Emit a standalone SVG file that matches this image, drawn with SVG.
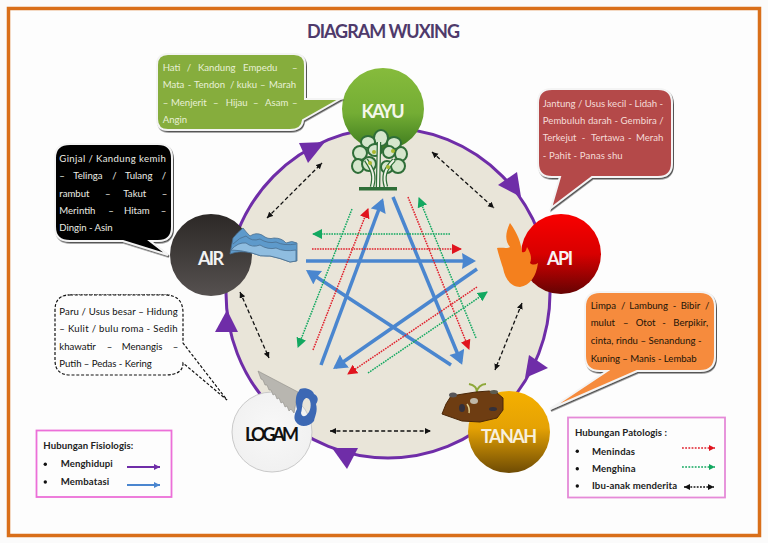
<svg xmlns="http://www.w3.org/2000/svg" width="768" height="543" viewBox="0 0 768 543">
<style>
text{font-family:"Lato","Carlito","Liberation Sans",sans-serif}
.b{font-size:9.6px}
.lbl{font-size:18px;font-weight:700;text-anchor:middle}
.lg{font-size:9.6px;font-weight:700;fill:#222}
.blue{stroke:#4a86cf;stroke-width:3.5;fill:none;marker-end:url(#hb)}
.red{stroke:#e0202c;stroke-width:1.5;stroke-dasharray:1.6 1;fill:none;marker-end:url(#hr)}
.green{stroke:#12a860;stroke-width:1.5;stroke-dasharray:1.6 1;fill:none;marker-end:url(#hg)}
.dbl{stroke:#111;stroke-width:1.3;stroke-dasharray:4 2.4;fill:none;marker-end:url(#hk);marker-start:url(#hk)}
.tri{fill:#6f2da8}
.leaf{fill:#d5e6cc;stroke:#2f6e38;stroke-width:2}
.bub{stroke:#f4f4f4;stroke-width:2;filter:url(#sh)}
.wave{stroke:#4a6f8f;stroke-width:.8}
</style>
<defs>
<filter id="sh" x="-10%" y="-10%" width="120%" height="125%"><feDropShadow dx="1" dy="1.5" stdDeviation=".6" flood-color="#555"/></filter>
<linearGradient id="gk" x1="0" y1="0" x2="0" y2="1"><stop offset="0" stop-color="#86bb3c"/><stop offset=".55" stop-color="#74ad34"/><stop offset="1" stop-color="#3c7a1e"/></linearGradient>
<linearGradient id="ga" x1="0" y1="0" x2="0" y2="1"><stop offset="0" stop-color="#f90000"/><stop offset=".5" stop-color="#d80000"/><stop offset="1" stop-color="#650303"/></linearGradient>
<linearGradient id="gt" x1="0" y1="0" x2="0" y2="1"><stop offset="0" stop-color="#f5b000"/><stop offset=".45" stop-color="#e5a204"/><stop offset="1" stop-color="#6e4b04"/></linearGradient>
<linearGradient id="gw" x1="0" y1="0" x2="0" y2="1"><stop offset="0" stop-color="#2c2826"/><stop offset="1" stop-color="#565150"/></linearGradient>
<radialGradient id="gl" cx=".5" cy=".45" r=".6"><stop offset="0" stop-color="#f8f8f8"/><stop offset="1" stop-color="#f0f0f0"/></radialGradient>
<marker id="hb" markerUnits="userSpaceOnUse" markerWidth="18" markerHeight="18" refX="11" refY="8" orient="auto"><path d="M0,0L14,8L0,16L1,8Z" fill="#4a86cf"/></marker>
<marker id="hr" markerUnits="userSpaceOnUse" markerWidth="12" markerHeight="12" refX="9" refY="5" orient="auto"><path d="M0,0L10,5L0,10Z" fill="#e0141e"/></marker>
<marker id="hg" markerUnits="userSpaceOnUse" markerWidth="12" markerHeight="12" refX="9" refY="5" orient="auto"><path d="M0,0L10,5L0,10Z" fill="#12a860"/></marker>
<marker id="hk" markerUnits="userSpaceOnUse" markerWidth="8" markerHeight="8" refX="6" refY="3" orient="auto-start-reverse"><path d="M0,0L6,3L0,6Z" fill="#111"/></marker>
<marker id="hp" markerUnits="userSpaceOnUse" markerWidth="7" markerHeight="7" refX="6" refY="3" orient="auto"><path d="M0,0L6,3L0,6Z" fill="#6f2da8"/></marker>
<marker id="hl" markerUnits="userSpaceOnUse" markerWidth="7" markerHeight="7" refX="6" refY="3" orient="auto"><path d="M0,0L6,3L0,6Z" fill="#4a86cf"/></marker>
</defs>
<rect width="768" height="543" fill="#fbfbfb"/>
<rect x="8.5" y="8.5" width="751" height="527" fill="#fdfdfd" stroke="#d96f1a" stroke-width="3.5"/>
<text id="title" x="307" y="37.5" font-size="18" font-weight="700" fill="#4f3a6b" textLength="153">DIAGRAM WUXING</text>

<g id="siklus">
<ellipse cx="388" cy="293" rx="162" ry="165" fill="#e9e5d9" stroke="#6f2da8" stroke-width="3"/>
<polygon class="tri" points="299,143 325,142 308,163"/>
<polygon class="tri" points="498,185 517,172 521,197"/>
<polygon class="tri" points="529,355 548,368 525,378"/>
<polygon class="tri" points="332,448 358,448 347,469"/>
<polygon class="tri" points="215,332 238,332 227,310"/>
</g>

<g id="connectors">
<line class="blue" x1="321" y1="365" x2="382" y2="201"/>
<line class="blue" x1="393" y1="197" x2="461" y2="362"/>
<line class="blue" x1="306" y1="261" x2="473" y2="261"/>
<line class="blue" x1="477" y1="269" x2="335.5" y2="367.3"/>
<line class="blue" x1="451" y1="365" x2="308.5" y2="271.7"/>
<line class="red" x1="313" y1="350" x2="368" y2="209"/>
<line class="red" x1="408" y1="197" x2="469" y2="349"/>
<line class="red" x1="312" y1="249" x2="461" y2="249"/>
<line class="red" x1="477" y1="287" x2="348" y2="374"/>
<line class="green" x1="352" y1="209" x2="298" y2="347"/>
<line class="green" x1="476" y1="338" x2="419" y2="198"/>
<line class="green" x1="450" y1="234" x2="313" y2="234"/>
<line class="green" x1="368" y1="373" x2="487" y2="292"/>
<line class="dbl" x1="267" y1="218" x2="322" y2="163"/>
<line class="dbl" x1="432" y1="152" x2="494" y2="208"/>
<line class="dbl" x1="522" y1="303" x2="495" y2="370"/>
<line class="dbl" x1="330" y1="431" x2="431" y2="431"/>
<line class="dbl" x1="240" y1="292" x2="269" y2="358"/>
</g>

<g id="node-kayu">
<circle cx="383" cy="109" r="41" fill="url(#gk)"/>
<text class="lbl" x="383" y="118" fill="#f4f7ea" textLength="43">KAYU</text>
<g id="ikon-pohon">
<ellipse class="leaf" cx="381" cy="138" rx="7" ry="8"/>
<ellipse class="leaf" cx="368" cy="142" rx="7" ry="6"/>
<ellipse class="leaf" cx="394" cy="143" rx="7" ry="6"/>
<ellipse class="leaf" cx="360" cy="153" rx="7" ry="7"/>
<ellipse class="leaf" cx="375" cy="150" rx="7" ry="6"/>
<ellipse class="leaf" cx="389" cy="152" rx="6" ry="6"/>
<ellipse class="leaf" cx="401" cy="154" rx="6" ry="7"/>
<ellipse class="leaf" cx="358" cy="166" rx="6" ry="7"/>
<ellipse class="leaf" cx="369" cy="164" rx="7" ry="7"/>
<ellipse class="leaf" cx="387" cy="167" rx="6" ry="6"/>
<ellipse class="leaf" cx="398" cy="166" rx="7" ry="7"/>
<path d="M372,187C375,176 373,170 366,160M386,187C383,177 384,170 394,160M378,187L379,142" fill="none" stroke="#2f6e38" stroke-width="4.5"/>
<path d="M372,187C375,176 373,170 366,160M386,187C383,177 384,170 394,160M378,187L379,142" fill="none" stroke="#eef3e6" stroke-width="2"/>
<circle cx="374" cy="152" r="2" fill="#a8b92e"/><circle cx="370" cy="163" r="2" fill="#a8b92e"/><circle cx="393" cy="151" r="2" fill="#a8b92e"/><circle cx="388" cy="167" r="2" fill="#a8b92e"/>
<rect x="359" y="187" width="38" height="3.5" fill="#2f6e38"/>
</g>
</g>

<g id="node-api">
<circle cx="561" cy="254" r="40" fill="url(#ga)"/>
<text class="lbl" x="560" y="265" fill="#f8f2f2" textLength="26">API</text>
<path id="ikon-api" d="M510,223C505,233 505,241 510,247C507,249 502,247 497,248C499,256 501,262 503,268C505,279 511,287 520,287C530,285 536,277 538,263C535,265 532,265 530,263C532,258 531,254 527,247C526,252 524,253 522,252C521,243 518,234 510,223Z" fill="#f4801e"/>
</g>

<g id="node-tanah">
<circle cx="509" cy="432" r="41" fill="url(#gt)"/>
<text class="lbl" x="509" y="443" fill="#f8f0dc" textLength="56">TANAH</text>
<g id="ikon-tanah">
<path d="M477,392C477,388 474,385 469,384M477,392C477,388 481,384 486,384" fill="none" stroke="#8ea83a" stroke-width="2"/>
<path d="M442,414L446,404L451,396L463,394L476,392L489,391L497,393L503,398L503,410L497,418L480,422L462,421Z" fill="#6e3d12" stroke="#4a2708" stroke-width="1"/>
<ellipse cx="453" cy="395" rx="4" ry="2.5" fill="#57565a"/><ellipse cx="494" cy="392" rx="4" ry="2" fill="#5c5c50"/><ellipse cx="474" cy="401" rx="4" ry="3" fill="#bfb8a8"/><ellipse cx="462" cy="408" rx="3" ry="4" fill="#34303a"/><ellipse cx="493" cy="409" rx="4" ry="2" fill="#34303a"/><path d="M467,404Q470,408 469,413" stroke="#e0d090" stroke-width="1.5" fill="none"/>
</g>
</g>

<g id="node-logam">
<circle cx="272" cy="432" r="40" fill="url(#gl)" stroke="#c9c9c9" stroke-width="1"/>
<text class="lbl" x="272" y="441" fill="#111" textLength="54">LOGAM</text>
<g id="ikon-gergaji">
<path d="M258,371L298,392L294,413L291,409L289,411L287,406L285,407L283,402L281,403L279,398L277,399L275,394L273,395L271,390L269,390L267,385L265,385L263,380L261,379Z" fill="#b8b6b0" stroke="#8f8d88" stroke-width=".6"/>
<path fill-rule="evenodd" d="M300,389C306,387 313,390 314,394C318,396 319,400 316,404C318,411 315,416 314,421C309,427 300,428 296,422C293,418 295,413 297,409C296,405 295,399 297,394Z M306,398C301,401 303,407 301,413C302,418 306,417 309,412C312,407 311,397 306,398Z" fill="#3c68b4"/>
</g>
</g>

<g id="node-air">
<circle cx="211" cy="255" r="41" fill="url(#gw)"/>
<text class="lbl" x="211" y="265" fill="#f2f2f2" textLength="26">AIR</text>
<g id="ikon-air">
<path class="wave" d="M230,254L233,238Q238,232 243,228Q246,232 250,236Q256,232 262,235Q268,240 274,238Q282,238 286,243Q292,240 297,243V261L290,262Q280,258 270,256Q260,257 252,253Q240,250 230,254Z" fill="#5e9acb"/>
<path class="wave" d="M231,250Q238,242 246,243Q252,248 260,245Q268,250 276,248Q284,252 296,250V261L290,262Q280,258 270,256Q260,257 252,253Q240,250 231,250Z" fill="#8fbde0"/>
<path class="wave" d="M233,244Q240,237 246,236Q252,242 260,239Q268,244 276,242Q284,246 296,244" fill="none"/>
</g>
</g>

<g id="bubble-kayu">
<path class="bub" fill="#86ad3c" d="M168,54H294Q305,54 305,65V99H340L303,120Q302,130 290,130H168Q157,130 157,119V65Q157,54 168,54Z"/>
<g class="b" fill="#e8f0d6">
<text y="70.7"><tspan x="162.7">Hati</tspan><tspan x="186.7">/</tspan><tspan x="198">Kandung</tspan><tspan x="243">Empedu</tspan><tspan x="292">–</tspan></text>
<text y="88"><tspan x="162.7">Mata</tspan><tspan x="187.7">-</tspan><tspan x="194">Tendon</tspan><tspan x="230">/</tspan><tspan x="236.7">kuku</tspan><tspan x="260">–</tspan><tspan x="269">Marah</tspan></text>
<text y="105.7"><tspan x="162.7">–</tspan><tspan x="171">Menjerit</tspan><tspan x="213">–</tspan><tspan x="225.7">Hijau</tspan><tspan x="253">–</tspan><tspan x="265">Asam</tspan><tspan x="292">–</tspan></text>
<text x="162.7" y="123">Angin</text>
</g>
</g>

<g id="bubble-api">
<path class="bub" fill="#b4484a" d="M552,89H658Q672,89 672,103V163Q672,177 658,177H592L551,208L560,177H552Q538,177 538,163V103Q538,89 552,89Z"/>
<g class="b" fill="#f4dcd8">
<text x="542.7" y="106.7" textLength="120.5">Jantung / Usus kecil - Lidah -</text>
<text x="542.7" y="124" textLength="121">Pembuluh darah - Gembira /</text>
<text y="141.3"><tspan x="542.7">Terkejut</tspan><tspan x="581.7">-</tspan><tspan x="591">Tertawa</tspan><tspan x="628">-</tspan><tspan x="636">Merah</tspan></text>
<text x="542.7" y="158.7" textLength="80">- Pahit  - Panas shu</text>
</g>
</g>

<g id="bubble-air">
<path class="bub" fill="#000" d="M70,144H158Q172,144 172,158V227Q172,241 158,241H150L168,255L123,241H70Q55,241 55,227V158Q55,144 70,144Z"/>
<g class="b" fill="#ecece4">
<text x="59.3" y="162" textLength="106.5">Ginjal / Kandung kemih</text>
<text y="179.3"><tspan x="59.3">–</tspan><tspan x="73.3">Telinga</tspan><tspan x="112.3">/</tspan><tspan x="125">Tulang</tspan><tspan x="161.7">/</tspan></text>
<text y="196.7"><tspan x="59.3">rambut</tspan><tspan x="105">–</tspan><tspan x="123.3">Takut</tspan><tspan x="161.7">–</tspan></text>
<text y="214"><tspan x="59.3">Merintih</tspan><tspan x="108.3">–</tspan><tspan x="124">Hitam</tspan><tspan x="160.7">–</tspan></text>
<text x="59.3" y="231.3" textLength="53.4">Dingin - Asin</text>
</g>
</g>

<g id="bubble-logam">
<path d="M58,365V310Q58,297 72,297H170" fill="none" stroke="#777" stroke-width="6" stroke-dasharray="1.6 1"/>
<path fill="#fdfdfd" stroke="#111" stroke-width="1.2" stroke-dasharray="3 1.8" d="M70,295H165Q183,295 183,313V343L227,400L183,363Q183,375 165,375H70Q55,375 55,360V310Q55,295 70,295Z"/>
<g class="b" fill="#111">
<text x="59.3" y="315" textLength="118.4">Paru / Usus besar – Hidung</text>
<text x="59.3" y="332.3" textLength="118.4">– Kulit / bulu roma - Sedih</text>
<text y="349.7"><tspan x="59.3">khawatir</tspan><tspan x="106.7">–</tspan><tspan x="121.7">Menangis</tspan><tspan x="172.7">–</tspan></text>
<text x="59.3" y="367" textLength="92.4">Putih – Pedas - Kering</text>
</g>
</g>

<g id="bubble-tanah">
<path class="bub" fill="#f68b3c" d="M600,292H700Q715,292 715,307V356Q715,371 700,371H637L550,409L607,371H600Q585,371 585,356V307Q585,292 600,292Z"/>
<g class="b" fill="#1c1408">
<text y="309"><tspan x="590.7">Limpa</tspan><tspan x="621">/</tspan><tspan x="629.3">Lambung</tspan><tspan x="672.7">-</tspan><tspan x="680.7">Bibir</tspan><tspan x="705">/</tspan></text>
<text y="326.3"><tspan x="590.7">mulut</tspan><tspan x="623">–</tspan><tspan x="635.7">Otot</tspan><tspan x="662.3">-</tspan><tspan x="673.3">Berpikir,</tspan></text>
<text x="590.7" y="343.7" textLength="111">cinta, rindu – Senandung -</text>
<text x="590.7" y="362" textLength="106">Kuning – Manis - Lembab</text>
</g>
</g>

<g id="legend-fisiologis">
<rect x="36.5" y="430.5" width="135" height="66.5" fill="#fdfdfd" stroke="#ec6fd8" stroke-width="1.8"/>
<text class="lg" x="43.3" y="449" textLength="90">Hubungan Fisiologis:</text>
<circle cx="45.3" cy="464.3" r="1.7" fill="#111"/>
<text class="lg" x="60.7" y="467" textLength="52">Menghidupi</text>
<line x1="127" y1="467" x2="160" y2="467" stroke="#6f2da8" stroke-width="2" marker-end="url(#hp)"/>
<circle cx="45.3" cy="482" r="1.7" fill="#111"/>
<text class="lg" x="60.7" y="485" textLength="48.5">Membatasi</text>
<line x1="127" y1="485" x2="160" y2="485" stroke="#4a86cf" stroke-width="2" marker-end="url(#hl)"/>
</g>

<g id="legend-patologis">
<rect x="568" y="417.5" width="157" height="80" fill="#fdfdfd" stroke="#e58ad8" stroke-width="1.8"/>
<text class="lg" x="575" y="436" textLength="92">Hubungan Patologis :</text>
<circle cx="577.3" cy="451.3" r="1.7" fill="#111"/>
<text class="lg" x="592" y="454.7" textLength="43">Menindas</text>
<line x1="682" y1="448" x2="715" y2="448" stroke="#e0202c" stroke-width="1.6" stroke-dasharray="1.8 1.4"/>
<path d="M709,445L715,448L709,451Z" fill="#e0141e"/>
<circle cx="577.3" cy="468.7" r="1.7" fill="#111"/>
<text class="lg" x="592" y="472" textLength="43.5">Menghina</text>
<line x1="682" y1="467" x2="715" y2="467" stroke="#12a860" stroke-width="1.6" stroke-dasharray="1.8 1.4"/>
<path d="M709,464L715,467L709,470Z" fill="#12a860"/>
<circle cx="577.3" cy="486" r="1.7" fill="#111"/>
<text class="lg" x="592" y="489.3" textLength="85">Ibu-anak menderita</text>
<line x1="684" y1="487" x2="714" y2="487" stroke="#111" stroke-width="1.6" stroke-dasharray="1.8 1.4" marker-start="url(#hk)" marker-end="url(#hk)"/>
</g>
</svg>
